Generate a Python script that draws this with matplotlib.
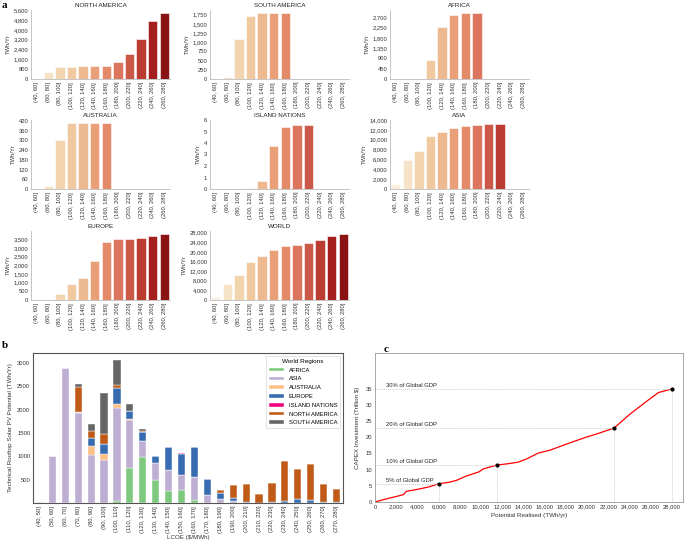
import matplotlib
matplotlib.use("Agg")
import matplotlib.pyplot as plt
import seaborn as sns
from matplotlib.ticker import FuncFormatter

plt.rcParams['font.family'] = ['Liberation Sans', 'DejaVu Sans']

# ---- panel a: cumulative potential per 20 $/MWh bin ----
bins_a = ["(40, 60]", "(60, 80]", "(80, 100]", "(100, 120]", "(120, 140]", "(140, 160]",
          "(160, 180]", "(180, 200]", "(200, 220]", "(220, 240]", "(240, 260]", "(260, 280]"]

na_cum = [0, 600, 950, 1000, 1050, 1050, 1050, 1380, 2000, 3270, 4700, 5350]
sa_cum = [0, 50, 1080, 1720, 1790, 1790, 1790, 0, 0, 0, 0, 0]
africa_cum = [0, 0, 0, 820, 2280, 2820, 2880, 2880, 0, 0, 0, 0]
australia_cum = [0, 18, 300, 405, 405, 405, 405, 0, 0, 0, 0, 0]
island_cum = [0, 0, 0, 0.08, 0.7, 3.7, 5.4, 5.6, 5.6, 0, 0, 0]
asia_cum = [1050, 5800, 7800, 10850, 11600, 12400, 12850, 13050, 13130, 13130, 0, 0]
europe_cum = [0, 0, 370, 920, 1270, 2270, 3330, 3500, 3540, 3580, 3710, 3790]
world_cum = [1050, 6500, 10500, 15700, 18300, 20600, 22300, 23000, 23550, 24950, 26450, 27300]

a_titles = ["NORTH AMERICA", "SOUTH AMERICA", "AFRICA", "AUSTRALIA", "ISLAND NATIONS",
            "ASIA", "EUROPE", "WORLD"]
a_values = [na_cum, sa_cum, africa_cum, australia_cum, island_cum, asia_cum, europe_cum, world_cum]
a_tick_max = [5600, 1750, 2700, 420, 6, 14000, 3500, 28000]
a_tick_step = [800, 250, 450, 60, 1, 2000, 500, 4000]

# ---- panel b: potential per 10 $/MWh bin, stacked by region ----
bins_b = ["(40, 50]", "(50, 60]", "(60, 70]", "(70, 80]", "(80, 90]", "(90, 100]",
          "(100, 110]", "(110, 120]", "(120, 130]", "(130, 140]", "(140, 150]", "(150, 160]",
          "(160, 170]", "(170, 180]", "(180, 190]", "(190, 200]", "(200, 210]", "(210, 220]",
          "(220, 230]", "(230, 240]", "(240, 250]", "(250, 260]", "(260, 270]", "(270, 280]"]

africa_b = [0, 0, 0, 0, 0, 0, 50, 750, 980, 490, 250, 280, 60, 0, 0, 0, 0, 0, 0, 0, 0, 0, 0, 0]
asia_b = [30, 1010, 2890, 1930, 1030, 930, 1980, 1020, 350, 370, 450, 330, 490, 170, 90, 50,
          10, 0, 0, 0, 0, 0, 0, 0]
australia_b = [0, 0, 0, 20, 190, 120, 100, 20, 0, 0, 0, 0, 0, 0, 0, 0, 0, 0, 0, 0, 0, 0, 0, 0]
europe_b = [0, 0, 0, 0, 170, 220, 330, 170, 200, 150, 490, 450, 650, 350, 120, 50,
            10, 0, 15, 40, 80, 60, 20, 20]
island_b = [0, 0, 0, 0, 0, 0, 0, 0.08, 0.2, 0.4, 1.5, 1.4, 1.0, 0.8, 0.1, 0.1,
            0, 0, 0, 0, 0, 0, 0, 0]
na_b = [0, 0, 0, 540, 160, 210, 60, 20, 10, 0, 0, 0, 0, 0, 70, 290,
        390, 200, 405, 870, 650, 770, 390, 270]
sa_b = [0, 0, 0, 50, 140, 880, 540, 130, 50, 0, 0, 0, 0, 0, 0, 0, 0, 0, 0, 0, 0, 0, 0, 0]

regions_b = ["AFRICA", "ASIA", "AUSTRALIA", "EUROPE", "ISLAND NATIONS", "NORTH AMERICA",
             "SOUTH AMERICA"]
values_b = [africa_b, asia_b, australia_b, europe_b, island_b, na_b, sa_b]
colors_b = ["#7fc97f", "#beaed4", "#fdc086", "#386cb0", "#f0027f", "#bf5b17", "#666666"]

# ---- panel c: CAPEX vs potential realised ----
c_x = [0, 1000, 2000, 2700, 2950, 4000, 5000, 6070, 7000, 7700, 8600, 9800, 10200, 11480,
       12500, 13500, 14300, 15400, 16500, 17500, 18500, 20000, 21000, 22560, 24000, 25500,
       26740, 27990]
c_y = [0, 0.9, 1.7, 2.3, 3.3, 3.9, 4.6, 5.66, 6.1, 6.7, 8.0, 9.3, 10.2, 11.4,
       11.8, 12.3, 13.3, 15.1, 16.0, 17.2, 18.4, 20.1, 21.1, 22.85, 27.0, 30.8,
       33.8, 34.9]
gdp_x = [6070, 11480, 22560, 27990]
gdp_y = [5.66, 11.4, 22.85, 34.9]
gdp_labels = ["5% of Global GDP", "10% of Global GDP", "20% of Global GDP", "30% of Global GDP"]

W, H = 685, 546
fig = plt.figure(figsize=(W / 100, H / 100), dpi=100)

comma = FuncFormatter(lambda v, p: "{:,.0f}".format(v))
fs = 4.2

# panel a grid
col_left = [31, 210, 390]
row_top = [10, 120, 231]
aw, ah = 139, 69
palette = sns.color_palette("OrRd", len(bins_a), desat=0.75)

for i, (title, vals) in enumerate(zip(a_titles, a_values)):
    r, c = divmod(i, 3)
    ax = fig.add_axes([col_left[c] / W, 1 - (row_top[r] + ah) / H, aw / W, ah / H])
    ax.bar(range(len(bins_a)), vals, width=0.8, color=palette, edgecolor="white", linewidth=0.4)
    ax.set_xlim(-0.5, len(bins_a) - 0.5)
    ax.set_yticks(range(0, a_tick_max[i] + 1, a_tick_step[i]))
    ax.yaxis.set_major_formatter(comma)
    ax.set_xticks(range(len(bins_a)))
    ax.set_xticklabels(bins_a, rotation=90)
    ax.tick_params(length=0, labelsize=fs, pad=2, colors="#333333")
    ax.set_title(title, fontsize=4.5, pad=2, color="#222222")
    ax.set_ylabel("TWh/Yr", fontsize=fs, labelpad=2, color="#333333")
    for s in ["top", "right"]:
        ax.spines[s].set_visible(False)
    for s in ["left", "bottom"]:
        ax.spines[s].set_color("#bbbbbb")
        ax.spines[s].set_linewidth(0.6)

# panel b
axb = fig.add_axes([33 / W, 1 - 503 / H, 310 / W, 150 / H])
bottom = [0] * len(bins_b)
for name, vals, col in zip(regions_b, values_b, colors_b):
    axb.bar(range(len(bins_b)), vals, bottom=bottom, width=0.55, color=col,
            edgecolor="white", linewidth=0.3, label=name)
    bottom = [b + v for b, v in zip(bottom, vals)]
axb.set_xlim(-0.5, len(bins_b) - 0.5)
axb.set_yticks(range(500, 3001, 500))
axb.set_xticks(range(len(bins_b)))
axb.set_xticklabels(bins_b, rotation=90)
axb.tick_params(length=0, labelsize=fs, pad=2, colors="#333333")
axb.set_xlabel("LCOE (\\$/MWh)", fontsize=4.5, labelpad=2, color="#333333")
axb.set_ylabel("Technical Rooftop Solar PV Potential (TWh/Yr)", fontsize=4.5, labelpad=3,
               color="#333333")
for s in axb.spines.values():
    s.set_color("#555555")
    s.set_linewidth(0.8)
leg = axb.legend(title="World Regions", fontsize=fs, title_fontsize=4.6, loc="upper right",
                 frameon=True, handlelength=2.5, handleheight=0.6, borderpad=0.5,
                 labelspacing=0.65, fancybox=False)
leg.get_frame().set_edgecolor("#cccccc")
leg.get_frame().set_linewidth(0.5)

# panel c
axc = fig.add_axes([375 / W, 1 - 502 / H, 308 / W, 149 / H])
axc.plot(c_x, c_y, color="red", linewidth=0.9)
for gx, gy, lab in zip(gdp_x, gdp_y, gdp_labels):
    axc.plot([0, gx], [gy, gy], color="#cccccc", linewidth=0.5, linestyle=(0, (2, 1)))
    axc.plot([gx, gx], [0, gy], color="#cccccc", linewidth=0.5, linestyle=(0, (2, 1)))
    axc.text(1050, gy + 0.3, lab, fontsize=4.2, va="bottom", ha="left", color="#222222")
axc.scatter(gdp_x, gdp_y, s=4, color="black", zorder=5, marker="o")
axc.set_xlim(0, 29050)
axc.set_ylim(0, 46)
axc.set_xticks(range(0, 28001, 2000))
axc.set_yticks(range(0, 36, 5))
axc.xaxis.set_major_formatter(comma)
axc.tick_params(length=0, labelsize=fs, pad=2, colors="#333333")
axc.set_xlabel("Potential Realised (TWh/yr)", fontsize=4.5, labelpad=2, color="#333333")
axc.set_ylabel("CAPEX Investment (Trillion \\$)", fontsize=4.5, labelpad=4, color="#333333")
for s in axc.spines.values():
    s.set_color("#999999")
    s.set_linewidth(0.6)

# panel letters
fig.text(2 / W, 1 - 0.5 / H, "a", fontsize=8, fontweight="bold", family="Liberation Serif",
         va="top", ha="left")
fig.text(2 / W, 1 - 346 / H, "b", fontsize=8, fontweight="bold", family="Liberation Serif",
         va="center", ha="left")
fig.text(384 / W, 1 - 350 / H, "c", fontsize=8, fontweight="bold", family="Liberation Serif",
         va="center", ha="left")

fig.savefig("out.png", dpi=100)
